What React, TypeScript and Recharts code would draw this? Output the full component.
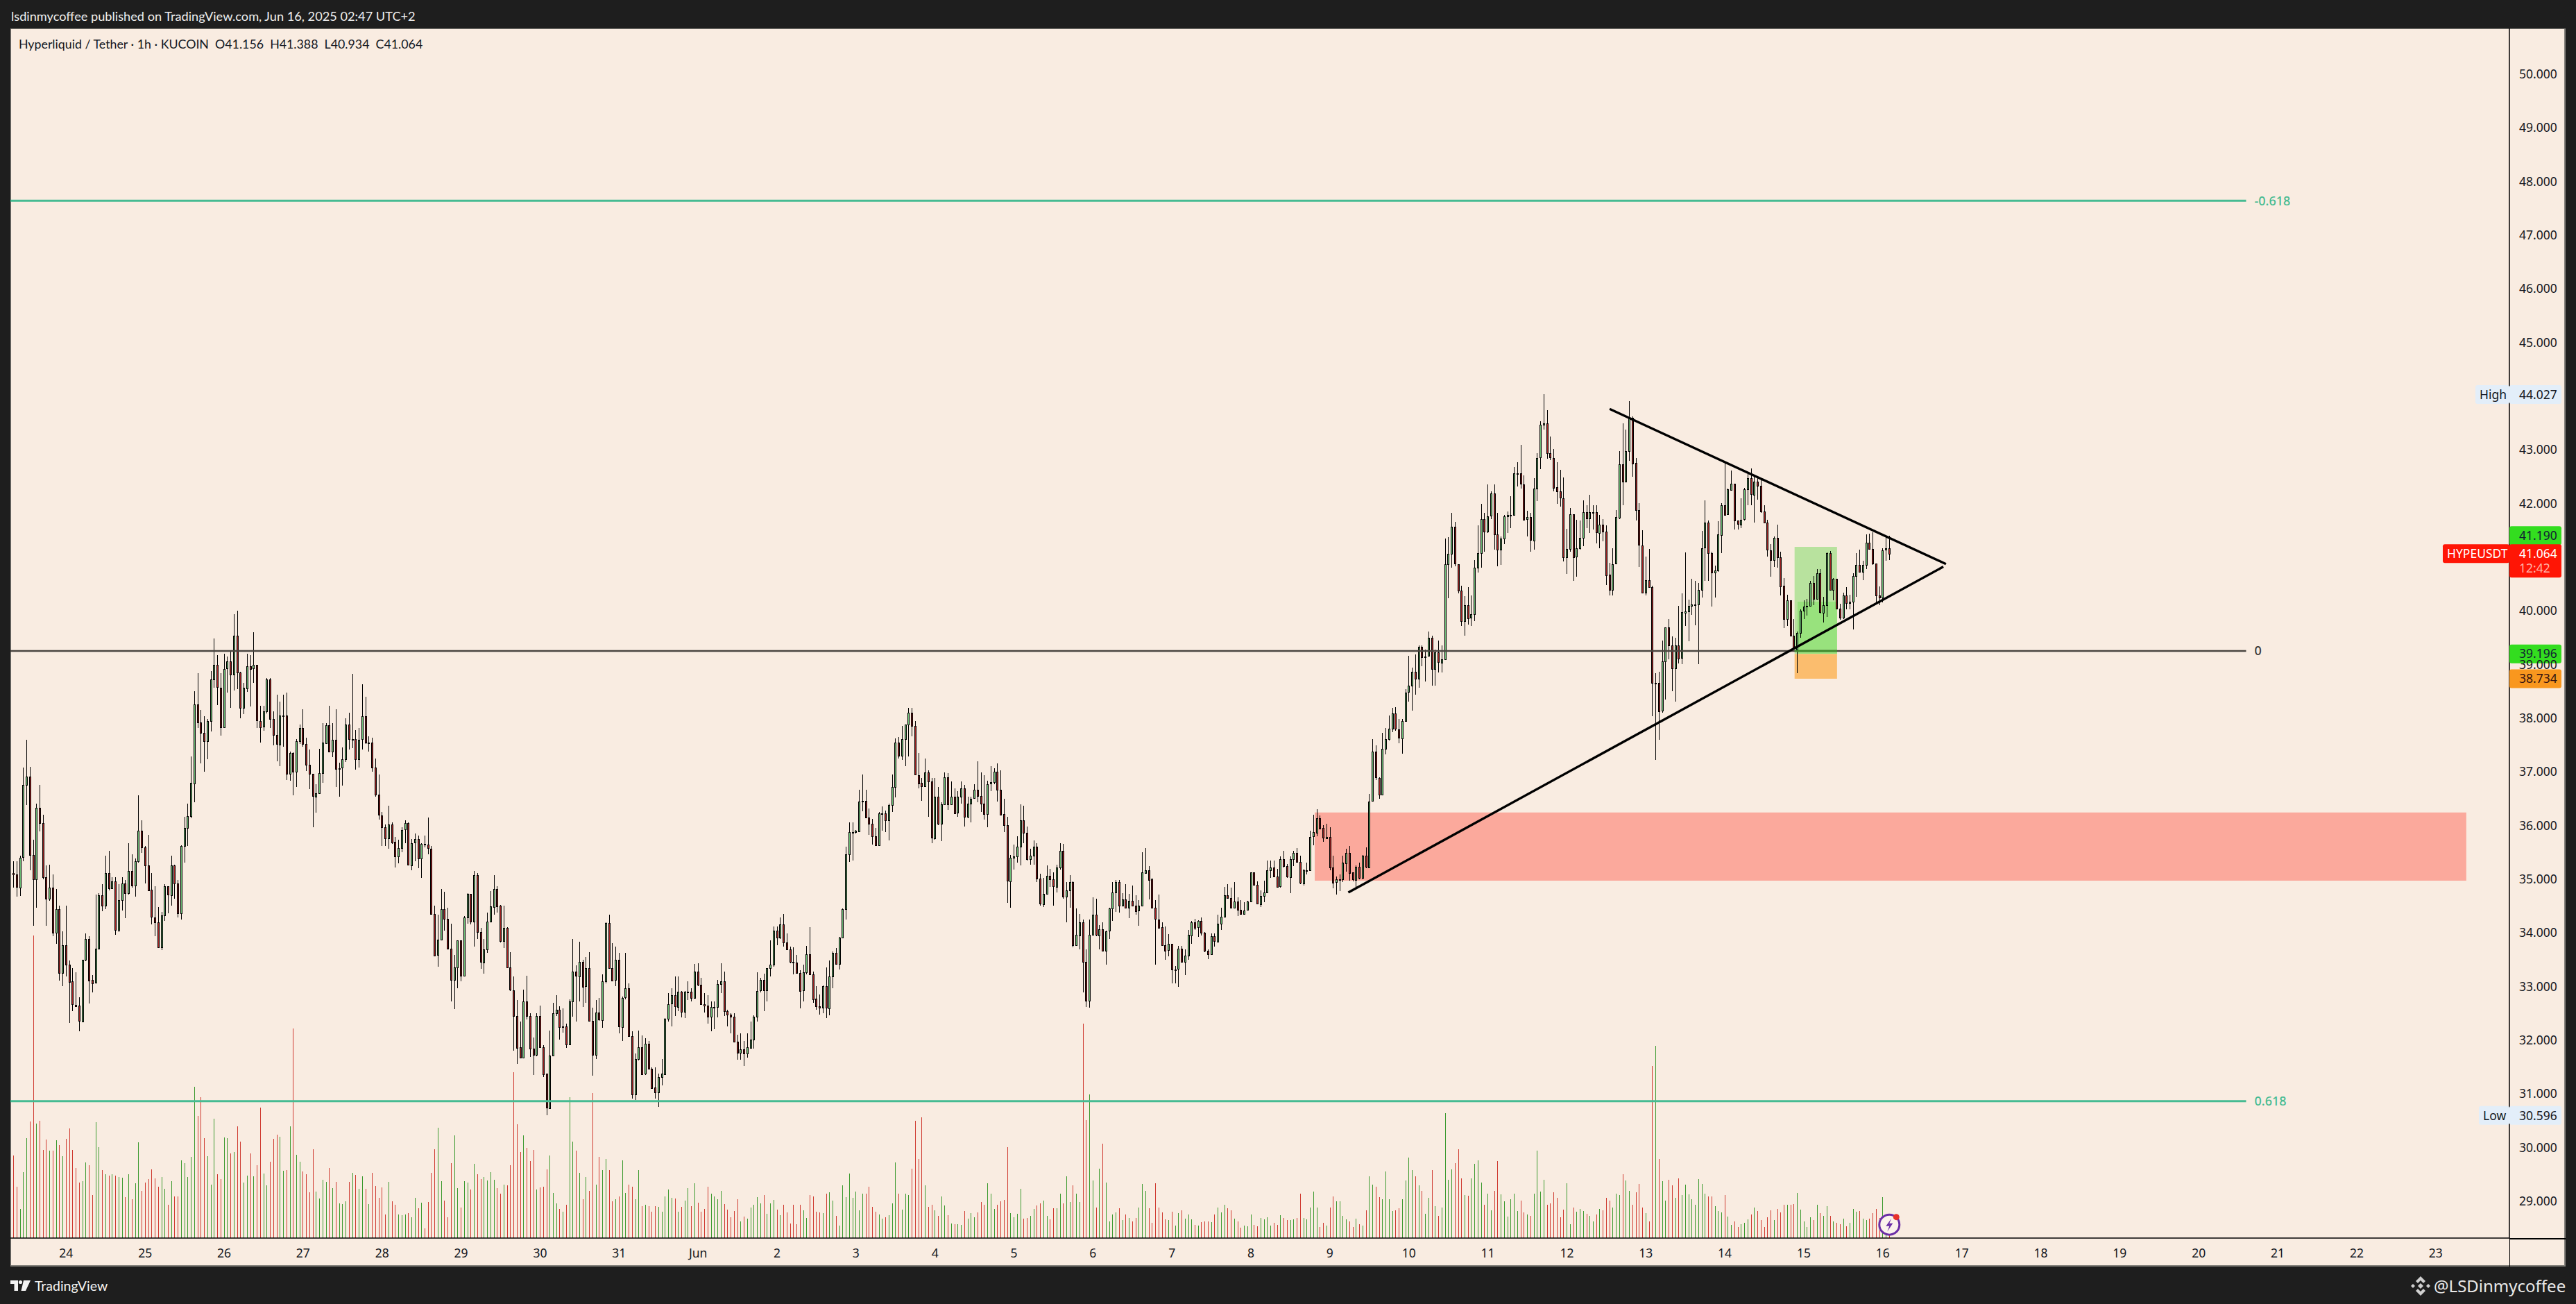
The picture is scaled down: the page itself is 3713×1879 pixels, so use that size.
import React from "react";
import { ComposedChart, Bar, XAxis, YAxis, ReferenceLine, ReferenceArea, ReferenceDot } from "recharts";

const FIRST_HOUR = -16;
const FIRST_OPEN = 35.11;

const closes = [
35.08,34.85,35.40,36.75,36.91,35.45,35.00,36.33,36.04,35.03,34.63,34.84,
34.00,34.44,33.25,33.77,33.41,33.09,32.66,32.64,32.35,33.50,33.89,33.12,
33.06,33.70,34.70,34.50,35.11,34.83,34.96,34.06,34.61,34.92,34.74,35.15,
34.88,35.33,35.90,35.59,35.26,34.80,34.29,34.20,33.73,34.32,34.86,34.71,
35.26,34.92,34.36,35.62,35.95,36.17,36.79,38.26,37.92,37.73,37.58,37.95,
38.72,38.99,38.57,37.83,38.92,39.05,38.80,39.53,38.85,38.19,38.56,38.97,
38.92,38.99,37.95,37.83,38.12,38.72,37.98,37.68,37.51,38.05,38.05,36.96,
37.35,37.00,37.57,37.82,37.52,37.13,36.96,36.54,36.60,36.97,37.54,37.87,
37.38,37.60,37.06,37.07,37.23,37.88,37.61,37.61,37.24,37.60,38.03,37.54,
37.54,37.08,36.57,36.19,35.97,35.76,36.02,35.69,35.42,35.58,35.92,36.04,
35.26,35.67,35.74,35.38,35.65,35.64,35.57,34.35,33.58,33.87,34.44,34.26,
33.70,33.12,33.35,33.86,33.20,34.28,34.72,34.20,35.07,34.01,33.45,33.69,
34.21,34.49,34.82,34.50,33.84,34.09,33.35,32.93,32.45,31.86,31.67,32.72,
32.45,31.84,31.72,32.45,31.87,31.37,30.73,31.71,32.50,32.56,32.24,32.25,
31.92,32.72,33.27,33.19,33.46,33.00,33.34,32.36,31.72,32.51,32.38,33.10,
34.18,33.34,33.11,33.49,32.25,32.79,32.96,32.07,30.99,31.65,31.87,31.37,
31.93,31.47,31.11,31.02,31.31,31.37,32.40,32.67,32.83,32.62,32.90,32.53,
32.90,32.90,32.78,33.27,33.03,32.67,32.64,32.43,32.61,32.61,33.04,33.09,
32.54,32.47,32.43,31.97,31.76,31.83,31.75,31.86,32.01,32.44,32.92,33.12,
32.92,33.34,33.41,34.04,33.91,34.16,33.82,33.69,33.46,33.45,33.25,32.92,
33.26,33.60,33.23,32.77,32.63,32.60,33.00,32.60,33.19,33.63,33.42,33.91,
34.44,35.46,35.87,35.88,35.90,36.45,36.46,36.15,36.03,35.80,35.63,36.22,
36.22,36.09,36.38,36.71,37.54,37.30,37.61,37.88,38.10,37.85,36.94,36.79,
36.73,36.99,36.82,35.77,36.54,36.03,36.39,36.90,36.40,36.54,36.23,36.53,
36.69,36.16,36.41,36.50,36.66,36.55,36.41,36.21,36.77,36.80,37.00,36.67,
36.21,36.00,34.96,35.40,35.42,35.60,36.09,35.86,35.37,35.43,35.60,35.01,
34.54,34.73,35.06,34.99,34.86,35.22,35.53,34.68,34.79,34.94,33.76,33.96,
34.20,33.46,32.73,33.96,34.33,33.95,34.07,33.67,34.03,34.45,34.75,34.95,
34.51,34.62,34.47,34.60,34.51,34.41,34.50,35.12,35.17,34.99,34.46,34.25,
34.10,33.77,33.67,33.79,33.31,33.32,33.70,33.46,33.57,33.96,34.20,34.10,
34.22,34.00,33.66,33.59,33.93,33.84,34.17,34.30,34.70,34.65,34.47,34.58,
34.43,34.35,34.42,34.58,35.12,34.89,34.54,34.69,34.75,35.17,35.22,35.05,
34.86,35.37,35.24,35.04,35.37,35.49,35.32,34.93,35.17,35.17,35.79,35.87,
36.14,35.95,35.77,35.79,35.22,34.94,34.99,34.99,35.30,35.49,35.12,34.99,
35.23,35.02,35.43,35.22,36.45,37.37,36.89,36.58,37.43,37.61,37.80,38.08,
37.79,37.63,37.95,38.48,38.60,38.86,38.73,39.33,39.14,39.15,39.49,38.91,
39.22,39.04,39.10,40.87,41.06,41.56,40.87,40.38,39.81,40.11,39.86,39.93,
40.80,41.07,41.71,41.48,41.76,42.18,41.42,41.13,41.34,41.76,41.79,41.79,
42.56,42.56,42.36,41.70,41.74,41.31,42.28,42.85,43.46,43.49,42.93,42.85,
42.30,42.22,42.10,41.00,41.15,41.80,41.00,41.16,41.36,41.84,41.73,41.84,
41.84,41.46,41.61,41.48,40.67,40.39,40.87,41.74,42.73,42.41,42.98,43.60,
42.75,41.87,41.22,40.34,40.57,40.44,38.65,38.66,38.13,39.05,39.69,39.36,
38.93,39.36,39.12,39.97,39.99,40.09,40.12,40.12,40.39,41.17,41.64,41.07,
40.71,40.75,41.42,41.97,41.79,42.26,42.37,41.68,41.61,41.70,42.26,42.47,
42.17,42.41,42.33,41.85,41.64,41.13,40.95,41.36,41.00,40.46,39.84,40.19,
39.53,39.28,39.59,40.00,40.08,40.09,40.52,40.22,40.70,39.97,40.11,41.08,
40.39,40.60,40.04,39.87,40.28,40.14,40.17,40.65,40.86,40.73,40.86,41.27,
41.15,40.88,40.29,40.25,41.13,41.16,41.06,
];

const highs = [
35.33,35.33,35.43,37.08,37.59,37.09,35.73,36.41,36.75,36.20,35.26,35.27,
35.08,34.82,34.50,34.03,34.51,33.48,33.34,33.26,32.80,33.50,33.99,33.93,
33.21,34.71,34.74,34.90,35.43,35.52,35.03,35.03,34.90,35.03,34.98,35.67,
35.46,35.38,36.56,36.10,35.62,35.82,35.11,34.87,34.48,34.39,34.90,34.84,
35.44,35.27,34.98,35.63,36.16,36.41,37.29,38.50,38.83,38.15,38.03,37.98,
38.88,39.48,39.17,38.84,39.20,39.15,39.26,39.93,40.00,38.86,38.65,39.20,
39.17,39.60,38.90,38.23,38.23,38.74,38.74,38.13,38.43,38.31,38.43,38.47,
37.37,37.36,37.61,37.88,38.16,37.63,37.41,36.93,36.77,37.43,37.91,37.90,
38.23,37.90,38.16,37.17,37.45,38.00,38.10,38.82,37.77,37.82,38.63,38.40,
37.66,37.63,37.24,36.95,36.25,36.02,36.37,36.06,35.78,35.73,35.97,36.09,
36.06,35.75,35.85,35.81,35.67,35.81,36.15,35.62,34.50,34.33,34.81,34.76,
34.47,34.17,33.58,33.86,33.86,34.31,34.74,34.70,35.15,35.11,34.09,33.88,
34.37,34.78,35.07,34.86,34.52,34.51,34.10,33.64,33.18,32.75,32.34,32.94,
33.20,32.50,32.05,32.50,32.64,31.90,31.38,32.18,32.69,32.84,32.63,32.59,
32.30,32.76,33.88,33.39,33.83,33.50,33.55,33.64,32.60,32.75,32.79,33.22,
34.19,34.33,33.81,33.74,33.62,32.81,33.63,33.05,32.16,31.75,32.18,32.08,
32.03,31.98,31.49,31.49,31.38,31.64,32.41,32.88,32.97,33.19,33.18,32.92,
32.92,33.10,32.96,33.42,33.43,33.16,32.88,32.84,32.72,32.72,33.12,33.43,
33.27,32.56,32.50,32.50,32.10,32.13,31.98,32.13,32.34,32.46,33.26,33.16,
33.24,33.34,33.86,34.12,34.12,34.29,34.35,33.99,33.74,33.73,33.59,33.30,
33.41,33.76,34.10,33.27,33.01,32.85,33.02,33.35,33.48,33.65,33.72,33.92,
34.45,35.60,36.05,36.06,35.92,36.66,36.95,36.66,36.32,36.12,35.95,36.25,
36.35,36.27,36.40,36.95,37.62,37.65,37.85,37.88,38.19,38.19,37.94,37.35,
36.89,37.24,37.03,36.88,36.88,36.72,36.43,36.99,36.98,36.82,36.69,36.64,
36.82,36.75,36.54,36.53,36.77,37.19,36.99,36.94,36.83,37.10,37.06,37.15,
37.02,36.49,36.16,35.45,35.64,35.80,36.39,36.37,35.98,35.56,35.72,35.67,
35.10,35.02,35.26,35.19,35.13,35.27,35.67,35.66,34.94,35.07,34.96,34.45,
34.35,34.25,33.69,34.25,34.66,34.63,34.14,34.20,34.04,34.46,34.95,34.98,
34.98,34.74,34.91,34.72,34.88,34.70,34.61,35.50,35.58,35.24,35.02,34.61,
34.71,34.20,34.12,33.97,33.79,33.38,33.75,33.75,33.69,34.05,34.22,34.26,
34.23,34.29,34.01,33.69,33.99,33.99,34.33,34.46,34.85,34.91,34.84,34.95,
34.66,34.61,34.57,34.60,35.13,35.13,34.96,34.79,34.97,35.34,35.35,35.35,
35.19,35.42,35.52,35.28,35.42,35.52,35.58,35.43,35.19,35.30,35.90,36.20,
36.30,36.19,36.01,36.03,35.97,35.43,35.05,35.08,35.43,35.57,35.62,35.11,
35.26,35.30,35.45,35.59,36.59,37.61,37.49,36.90,37.72,37.82,38.05,38.19,
38.20,37.98,37.98,38.54,39.16,38.94,39.19,39.36,39.36,39.28,39.61,39.53,
39.28,39.45,39.35,41.34,41.37,41.82,41.65,40.87,40.46,40.27,40.44,40.29,
40.95,41.59,41.99,41.82,42.35,42.22,42.35,41.82,41.39,41.79,41.85,42.13,
42.68,42.77,43.09,42.52,41.86,41.82,42.47,42.93,43.53,44.03,43.74,43.25,
43.01,42.77,42.62,42.48,41.53,41.91,41.80,41.70,41.68,42.05,41.97,42.16,
41.97,41.97,41.79,41.71,41.59,40.89,41.16,41.88,42.97,43.49,43.37,43.90,
43.62,42.84,42.00,41.50,41.01,41.15,40.47,38.83,38.86,39.45,39.69,39.85,
39.52,39.50,40.09,40.32,41.09,40.21,40.60,40.56,40.52,41.49,42.05,41.68,
41.10,40.84,41.67,42.00,42.75,42.28,42.61,42.35,41.68,42.09,42.29,42.56,
42.65,42.52,42.50,42.44,41.96,41.70,41.24,41.38,41.60,41.10,40.61,40.30,
40.19,39.85,39.61,40.02,40.19,40.22,40.56,40.65,40.77,40.77,40.26,41.09,
41.11,40.61,40.59,40.13,40.34,40.44,40.30,40.70,41.07,41.14,40.93,41.42,
41.43,41.46,40.88,40.45,41.16,41.37,41.40,
];

const lows = [
34.84,34.67,34.68,35.33,36.38,35.17,34.13,34.47,35.89,35.00,34.13,34.60,
33.93,33.79,33.11,33.00,33.18,32.32,32.54,32.61,32.17,32.33,33.47,32.68,
32.89,33.06,33.69,34.40,34.44,34.79,34.82,33.96,34.01,34.41,34.27,34.71,
34.84,34.67,35.30,35.49,34.92,34.79,34.15,33.93,33.72,33.68,34.22,34.36,
34.50,34.63,34.28,34.24,35.31,35.62,36.13,36.43,37.82,37.16,37.00,37.23,
37.75,38.56,38.24,37.67,37.81,38.47,38.19,38.51,38.54,37.99,38.07,38.49,
38.22,38.66,37.81,37.54,37.76,38.09,37.82,37.49,37.19,37.11,37.47,36.85,
36.83,36.56,36.72,37.52,37.47,37.01,36.68,35.97,36.24,36.59,36.79,37.52,
37.37,37.27,36.72,36.54,36.74,37.18,37.42,37.44,37.04,37.08,37.42,37.52,
37.38,37.00,36.54,36.11,35.62,35.61,35.57,35.65,35.22,35.29,35.50,35.67,
35.25,35.17,35.33,35.20,35.02,35.59,35.46,34.34,33.57,33.36,33.86,34.04,
33.69,32.72,32.58,32.97,33.10,33.18,34.17,34.16,33.74,33.88,33.33,33.24,
33.62,34.20,34.34,34.37,33.82,33.72,33.34,32.92,31.80,31.55,31.66,31.67,
32.38,31.69,31.35,31.70,31.85,31.31,30.60,30.74,31.71,32.45,32.01,32.14,
31.85,31.90,32.44,32.34,32.72,32.62,32.70,32.35,31.34,31.65,32.36,32.23,
33.05,33.33,33.10,33.01,32.13,31.98,32.76,32.06,30.91,30.88,31.62,31.36,
31.35,31.46,31.09,30.91,30.76,31.16,31.35,32.34,32.25,32.45,32.54,32.42,
32.41,32.74,32.72,32.78,33.01,32.67,32.51,32.30,32.16,32.20,32.42,32.88,
32.45,32.25,32.12,31.96,31.63,31.63,31.52,31.67,31.85,31.84,32.35,32.89,
32.54,32.72,33.19,33.37,33.77,33.88,33.74,33.68,33.43,33.23,33.24,32.59,
32.72,33.23,33.22,32.70,32.56,32.48,32.50,32.41,32.46,32.97,33.41,33.32,
33.90,34.25,35.32,35.34,35.85,35.95,36.26,36.13,35.82,35.64,35.62,35.63,
35.90,35.88,35.72,36.25,36.52,37.25,37.22,37.11,37.28,37.66,36.93,36.69,
36.46,36.72,36.16,35.67,35.73,36.01,35.71,36.39,36.29,36.38,36.22,36.16,
36.40,35.98,36.14,36.06,36.51,36.43,36.25,36.11,35.97,36.64,36.77,36.44,
36.20,35.88,34.55,34.46,35.18,35.30,35.26,35.67,35.35,35.27,35.27,34.94,
34.51,34.48,34.72,34.85,34.51,34.75,35.18,34.63,34.20,34.46,33.73,33.75,
33.69,32.89,32.61,32.60,33.95,33.93,33.69,33.66,33.41,33.89,34.22,34.39,
34.38,34.49,34.46,34.27,34.51,34.33,34.13,34.50,35.10,34.62,34.45,33.41,
34.09,33.76,33.50,33.56,33.05,33.06,32.99,33.45,33.21,33.49,33.79,34.05,
33.92,33.95,33.64,33.51,33.58,33.74,33.83,34.05,34.28,34.63,34.46,34.46,
34.31,34.35,34.35,34.41,34.60,34.88,34.53,34.48,34.57,34.75,35.02,35.04,
34.85,34.84,35.22,35.02,34.74,35.24,35.31,34.91,34.88,35.09,35.15,35.63,
35.80,35.93,35.69,35.77,35.17,34.83,34.71,34.77,34.95,35.14,34.97,34.96,
34.80,35.00,35.00,35.20,35.20,36.47,36.84,36.50,36.62,37.32,37.58,37.74,
37.76,37.53,37.34,37.94,38.30,38.14,38.44,38.57,38.97,38.68,39.22,38.60,
38.60,38.85,38.85,39.10,40.23,40.80,40.83,40.32,39.72,39.53,39.74,39.72,
39.81,40.71,40.80,41.10,41.45,41.71,41.14,40.83,40.85,41.24,41.45,41.54,
41.79,42.31,42.28,41.68,41.39,41.10,41.14,42.04,42.64,43.37,42.83,42.81,
42.23,41.99,41.94,40.92,40.69,41.10,40.55,40.64,41.14,41.20,41.54,41.45,
41.51,41.26,41.17,41.29,40.48,40.29,40.29,40.89,41.71,41.97,42.41,42.80,
42.49,41.68,40.82,40.34,40.28,40.43,38.04,37.22,37.59,38.10,38.35,39.10,
38.50,38.31,39.02,39.01,39.71,39.43,39.92,39.73,39.01,40.24,40.56,40.55,
40.08,40.25,40.73,41.07,41.78,41.80,42.26,41.51,41.51,41.54,41.68,41.96,
41.96,41.64,42.07,41.83,41.63,41.01,40.64,40.82,40.80,40.29,39.68,39.71,
39.53,39.27,38.83,39.50,39.84,39.91,40.09,40.11,40.22,39.95,39.78,39.88,
40.37,40.19,40.02,39.83,39.84,40.02,40.02,39.65,40.26,40.72,40.57,40.77,
41.14,40.86,40.15,40.11,40.15,40.93,40.94,
];

const volumes = [
119,74,42,95,144,168,436,165,169,127,142,126,
126,141,134,118,143,158,127,101,80,82,109,105,
62,167,131,98,92,90,92,90,88,87,59,92,
56,79,138,68,80,85,99,86,74,88,71,48,
82,60,60,112,108,88,117,218,176,203,144,118,
77,172,92,85,145,144,122,124,161,139,80,90,
122,89,105,188,93,76,110,143,149,146,97,98,
161,302,120,110,96,92,66,128,67,57,84,81,
101,72,81,50,49,53,81,94,91,71,89,71,
49,94,75,58,73,34,81,53,48,34,33,34,
36,30,58,43,51,14,52,94,128,159,82,54,
30,108,148,72,44,82,80,70,107,92,85,88,
83,95,84,72,64,77,76,105,239,164,124,148,
130,111,127,70,73,74,99,119,65,50,42,38,
48,203,139,126,94,56,88,68,209,77,117,98,
114,98,53,56,60,112,65,77,74,56,98,46,
48,46,38,46,45,38,60,70,58,57,38,45,
54,72,46,
79,51,38,42,74,64,60,56,68,49,41,30,
39,56,24,31,28,44,48,59,50,62,35,50,
55,41,33,48,37,21,48,20,48,40,29,62,
60,38,37,36,64,66,54,32,18,76,59,93,
58,67,40,64,64,74,45,38,34,28,30,33,
50,109,64,41,64,62,100,169,114,174,76,45,
48,40,32,60,47,33,21,20,20,19,39,28,
36,30,37,52,48,79,64,42,48,53,55,131,
36,30,35,71,28,29,32,42,47,50,54,32,
27,43,43,64,50,89,52,76,64,52,309,170,
207,83,44,100,136,80,24,34,37,43,26,34,
29,24,29,44,78,68,43,22,79,44,37,27,
26,38,18,36,40,28,34,27,19,18,23,24,
24,23,34,44,37,48,43,40,28,24,15,18,
17,34,19,17,29,27,30,18,22,19,33,29,
26,
26,27,29,64,29,27,44,67,44,16,22,18,
44,60,53,53,32,27,24,16,28,20,18,40,
89,77,74,59,56,96,56,39,40,43,56,83,
116,98,89,76,68,35,58,98,46,32,44,180,
84,99,108,128,86,62,61,86,107,112,80,48,
64,40,68,111,63,53,31,56,64,39,54,37,
34,32,64,126,67,84,48,50,66,58,30,41,
79,20,44,38,42,39,35,32,24,34,42,40,
58,54,44,64,62,92,83,68,48,66,78,44,
36,24,248,277,114,82,54,84,76,58,86,62,
77,63,56,48,85,78,64,60,60,46,39,37,
62,31,19,24,16,20,22,27,34,44,39,26,
16,30,40,26,42,37,48,48,48,49,65,41,
24,16,30,26,48,36,32,46,32,24,22,20,
28,17,22,42,38,39,28,26,28,36,42,29,
59,24,14,
];

const dayTicks = [0,24,48,72,96,120,144,168,192,216,240,264,288,312,336,360,384,408,432,456,480,504,528,552,576,600,624,648,672,696,720];
const dayLabels = ["24","25","26","27","28","29","30","31","Jun","2","3","4","5","6","7","8","9","10","11","12","13","14","15","16","17","18","19","20","21","22","23"];
const priceTicks = [29,30,31,32,33,34,35,36,37,38,39,40,42,43,45,46,47,48,49,50];

const X_MIN = -16.93;
const X_MAX = 742.4;
const Y_MIN = 28.31;
const Y_MAX = 50.85;
const VOL_MAX = 1743;

const FIB_TOP = 47.64;
const FIB_ZERO = 39.25;
const FIB_BOTTOM = 30.86;
const FIB_END = 662.4;

const UP_FILL = "#6CC077";
const DOWN_FILL = "#A32222";
const VOL_UP = "#3B9A2E";
const VOL_DOWN = "#CF3A30";
const FIB_COLOR = "#46BB92";

const table = closes.map((close, i) => {
  const open = i === 0 ? FIRST_OPEN : closes[i - 1];
  return { hour: FIRST_HOUR + i, open, close, high: highs[i], low: lows[i], volume: volumes[i], up: close >= open };
});

const FONT = "'Noto Sans', sans-serif";

const Candle = (p: any) => {
  const { x, y, width, height, payload } = p;
  const rx = Math.round(x + width / 2 - 0.5);
  const top = Math.min(y, y + height);
  const h = Math.abs(height);
  const range = payload.high - payload.low || 1;
  const perUnit = h / range;
  const bodyHigh = Math.max(payload.open, payload.close);
  const bodyLow = Math.min(payload.open, payload.close);
  const by = Math.round(top + (payload.high - bodyHigh) * perUnit) + 0.5;
  const bh = Math.max(Math.round((bodyHigh - bodyLow) * perUnit), 1);
  return (
    <g shapeRendering="crispEdges">
      <rect x={rx} y={top} width={1} height={h} fill="#000" />
      <rect x={rx - 0.5} y={by} width={2} height={bh} fill={payload.up ? UP_FILL : DOWN_FILL} stroke="#000" strokeWidth={1} />
    </g>
  );
};

const VolumeBar = (p: any) => {
  const { x, y, height, payload } = p;
  return <rect x={Math.round(x)} y={y} width={1} height={height} fill={payload.up ? VOL_UP : VOL_DOWN} shapeRendering="crispEdges" />;
};

const PriceTick = (p: any) => (
  <text x={3631} y={p.y} dy="0.36em" fontFamily={FONT} fontSize={17.5} fill="#131722">
    {p.payload.value.toFixed(3)}
  </text>
);

const DayTick = (p: any) => {
  const idx = dayTicks.indexOf(p.payload.value);
  return (
    <text x={p.x} y={1806} dy="0.36em" textAnchor="middle" fontFamily={FONT} fontSize={17.5} fill="#131722">
      {dayLabels[idx]}
    </text>
  );
};

const Badge = (p: any) => {
  const { cx, cy, text, bg, fg, height = 27, tab, sub, extra = 0, tabBg } = p;
  return (
    <g fontFamily={FONT} fontSize={17.5}>
      {tab ? (
        <>
          <rect x={cx - (tab.width || 96)} y={cy - height / 2} width={tab.width || 96} height={height} rx={3} fill={tabBg || bg} />
          <text x={cx - (tab.width || 96) + (tab.pad || 6)} y={cy} dy="0.36em" fill={fg}>{tab.text}</text>
        </>
      ) : null}
      <rect x={cx} y={cy - height / 2} width={75} height={height + extra} rx={3} fill={bg} />
      <text x={cx + 14} y={cy} dy="0.36em" fill={fg}>{text}</text>
      {sub ? <text x={cx + 14} y={cy + 21} dy="0.36em" fill="#FFB3A8">{sub}</text> : null}
    </g>
  );
};

const FibLabel = (p: any) => (
  <text x={p.cx + 12} y={p.cy} dy="0.36em" fontFamily={FONT} fontSize={18} fontWeight={500} fill={p.color}>{p.text}</text>
);

const BoltIcon = (p: any) => {
  const { cx, cy } = p;
  return (
    <g>
      <circle cx={cx} cy={cy} r={14.5} fill="#FBF3EC" stroke="#6B2FA6" strokeWidth={3} />
      <path d={`M${cx + 3} ${cy - 9} L${cx - 5} ${cy + 2} L${cx} ${cy + 2} L${cx - 3} ${cy + 10} L${cx + 5} ${cy - 2} L${cx} ${cy - 2} Z`} fill="#6B2FA6" />
      <circle cx={cx + 10} cy={cy - 11} r={4.5} fill="#E8302A" />
    </g>
  );
};

const ax = { xAxisId: "p", yAxisId: "p" } as any;

const pos = (style: any) => ({ position: "absolute", ...style } as any);

export default function App() {
  return (
    <div style={pos({ left: 0, top: 0, width: 3713, height: 1879, background: "#1E1E1E", overflow: "hidden" })}>
      <div style={pos({ left: 15, top: 41, width: 3683, height: 1784, background: "#F9ECE1", borderRight: "2px solid #85827C", borderBottom: "2px solid #85827C", borderTop: "1px solid #85827C", borderLeft: "1px solid #85827C", boxSizing: "border-box" })} />
      <div style={pos({ left: 0, top: 0, width: 3713, height: 1879 })}>
        <ComposedChart width={3713} height={1879} data={table} margin={{ top: 41, right: 15, bottom: 54, left: 15 }}>
          <XAxis xAxisId="p" dataKey="hour" type="number" domain={[X_MIN, X_MAX]} ticks={dayTicks} tick={DayTick} tickLine={false} axisLine={{ stroke: "#000", strokeWidth: 1.5 }} height={41} interval={0} allowDataOverflow />
          <XAxis xAxisId="v" dataKey="hour" type="number" domain={[X_MIN, X_MAX]} hide allowDataOverflow />
          <YAxis yAxisId="p" orientation="right" domain={[Y_MIN, Y_MAX]} ticks={priceTicks} tick={PriceTick} tickLine={false} axisLine={{ stroke: "#000", strokeWidth: 1.5 }} width={81} interval={0} allowDataOverflow />
          <YAxis yAxisId="v" domain={[0, VOL_MAX]} hide allowDataOverflow />

          <ReferenceArea {...ax} x1={379.4} x2={729.3} y1={34.97} y2={36.24} fill="#FBA99C" fillOpacity={1} stroke="none" ifOverflow="visible" />
          <ReferenceArea {...ax} x1={525.2} x2={538.1} y1={39.196} y2={41.19} fill="#B8E29E" fillOpacity={1} stroke="none" ifOverflow="visible" />
          <ReferenceArea {...ax} x1={526.1} x2={538.1} y1={39.196} y2={40.17} fill="#98E27D" fillOpacity={1} stroke="none" ifOverflow="visible" />
          <ReferenceArea {...ax} x1={525.2} x2={538.1} y1={38.734} y2={39.196} fill="#FBBD6E" fillOpacity={1} stroke="none" ifOverflow="visible" />

          <Bar xAxisId="v" yAxisId="v" dataKey="volume" barSize={1} shape={VolumeBar} isAnimationActive={false} />
          <Bar xAxisId="p" yAxisId="p" dataKey={(d: any) => [d.low, d.high]} barSize={3} shape={Candle} isAnimationActive={false} />

          <ReferenceLine {...ax} segment={[{ x: X_MIN, y: FIB_TOP }, { x: FIB_END, y: FIB_TOP }]} stroke={FIB_COLOR} strokeWidth={3} ifOverflow="visible" />
          <ReferenceLine {...ax} segment={[{ x: X_MIN, y: FIB_ZERO }, { x: FIB_END, y: FIB_ZERO }]} stroke="#4A4540" strokeWidth={2.6} ifOverflow="visible" />
          <ReferenceLine {...ax} segment={[{ x: X_MIN, y: FIB_BOTTOM }, { x: FIB_END, y: FIB_BOTTOM }]} stroke={FIB_COLOR} strokeWidth={3} ifOverflow="visible" />
          <ReferenceLine {...ax} segment={[{ x: 525.2, y: FIB_ZERO }, { x: 538.1, y: FIB_ZERO }]} stroke="#3F8A2C" strokeWidth={2.6} ifOverflow="visible" />
          <ReferenceLine {...ax} segment={[{ x: 469, y: 43.76 }, { x: 571.2, y: 40.87 }]} stroke="#000" strokeWidth={3.4} ifOverflow="visible" />
          <ReferenceLine {...ax} segment={[{ x: 389.6, y: 34.75 }, { x: 570.4, y: 40.82 }]} stroke="#000" strokeWidth={3.4} ifOverflow="visible" />

          <ReferenceDot {...ax} x={FIB_END} y={FIB_TOP} ifOverflow="visible" shape={<FibLabel text="-0.618" color={FIB_COLOR} />} />
          <ReferenceDot {...ax} x={FIB_END} y={FIB_ZERO} ifOverflow="visible" shape={<FibLabel text="0" color="#3A3632" />} />
          <ReferenceDot {...ax} x={FIB_END} y={FIB_BOTTOM} ifOverflow="visible" shape={<FibLabel text="0.618" color={FIB_COLOR} />} />

          <ReferenceDot {...ax} x={X_MAX} y={44.027} ifOverflow="visible" shape={<Badge text="44.027" bg="#E3EEF9" fg="#131722" tab={{ text: "High", width: 49, pad: 6 }} />} />
          <ReferenceDot {...ax} x={X_MAX} y={41.40} ifOverflow="visible" shape={<Badge text="41.190" bg="#33DD1F" fg="#123" />} />
          <ReferenceDot {...ax} x={X_MAX} y={41.064} ifOverflow="visible" shape={<Badge text="41.064" bg="#FF1505" fg="#fff" extra={21} sub="12:42" tab={{ text: "HYPEUSDT", width: 96, pad: 6 }} />} />
          <ReferenceDot {...ax} x={X_MAX} y={39.196} ifOverflow="visible" shape={<Badge text="39.196" bg="#33DD1F" fg="#123" />} />
          <ReferenceDot {...ax} x={X_MAX} y={38.734} ifOverflow="visible" shape={<Badge text="38.734" bg="#F9971E" fg="#311" />} />
          <ReferenceDot {...ax} x={X_MAX} y={30.596} ifOverflow="visible" shape={<Badge text="30.596" bg="#E3EEF9" fg="#131722" tab={{ text: "Low", width: 44, pad: 6 }} />} />

          <ReferenceDot {...ax} x={554} y={28.56} ifOverflow="visible" shape={<BoltIcon />} />
        </ComposedChart>
      </div>
      <div style={pos({ left: 3617, top: 1784, width: 81, height: 1.5, background: "#000" })} />
      <div style={pos({ left: 3616.5, top: 1784, width: 1.5, height: 41, background: "#000" })} />
      <div style={pos({ left: 16, top: 12, color: "#EDEDED", fontFamily: "Lato, sans-serif", fontSize: 18.2, whiteSpace: "nowrap" })}>
        lsdinmycoffee published on TradingView.com, Jun 16, 2025 02:47 UTC+2
      </div>
      <div style={pos({ left: 27, top: 52, color: "#131722", fontFamily: "Lato, sans-serif", fontSize: 17.8, whiteSpace: "pre" })}>
        {"Hyperliquid / Tether · 1h · KUCOIN  O41.156  H41.388  L40.934  C41.064"}
      </div>
      <svg style={pos({ left: 15, top: 1844 })} width={30} height={17} viewBox="0 0 30 17">
        <path d="M0 1 H11 V16 H5.5 V6 H0 Z M19 1 H29 L22 16 H15.5 Z" fill="#F2F2F2" />
        <circle cx={14.5} cy={3.5} r={2.6} fill="#F2F2F2" />
      </svg>
      <div style={pos({ left: 50, top: 1841, color: "#F2F2F2", fontFamily: "Lato, sans-serif", fontSize: 19.5, whiteSpace: "nowrap" })}>TradingView</div>
      <svg style={pos({ left: 3475, top: 1839 })} width={28} height={28} viewBox="0 0 28 28" fill="#CFCFCF">
        <path d="M14 0 L21 7 L18 10 L14 6 L10 10 L7 7 Z" />
        <path d="M14 28 L21 21 L18 18 L14 22 L10 18 L7 21 Z" />
        <path d="M14 10 L18 14 L14 18 L10 14 Z" />
        <path d="M3 11 L6 14 L3 17 L0 14 Z" />
        <path d="M25 11 L28 14 L25 17 L22 14 Z" />
      </svg>
      <div style={pos({ left: 3508, top: 1836, color: "#E8E8E8", fontFamily: "'Noto Sans', sans-serif", fontSize: 24, whiteSpace: "nowrap" })}>@LSDinmycoffee</div>
    </div>
  );
}
